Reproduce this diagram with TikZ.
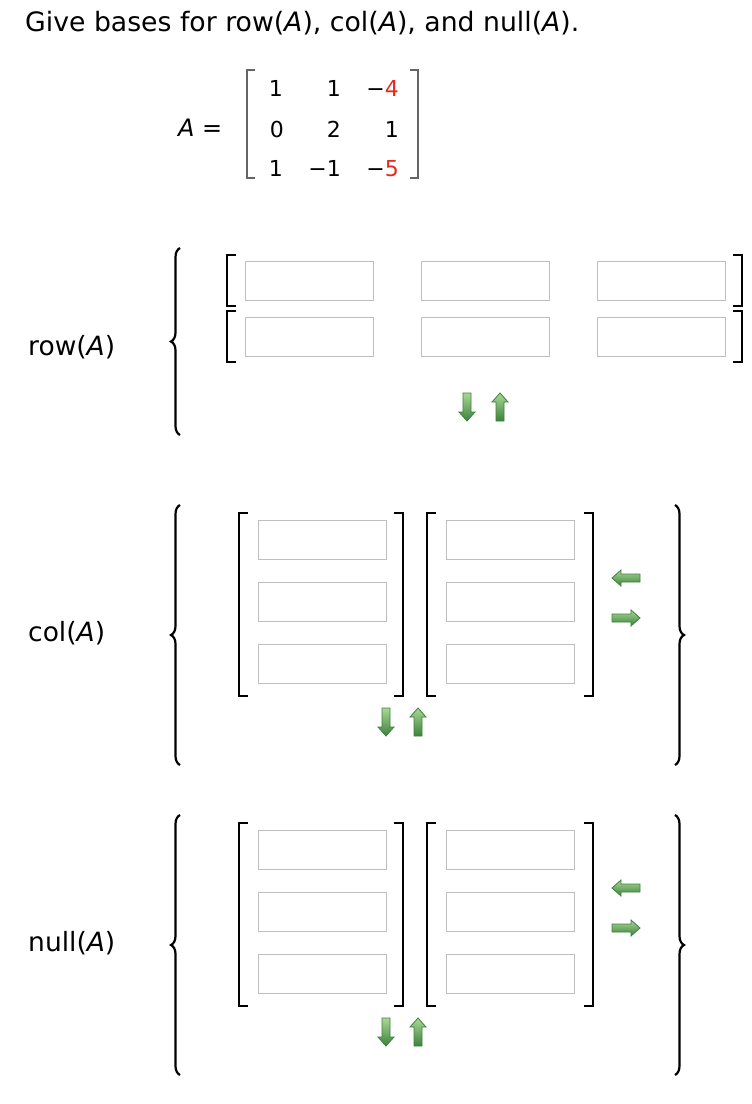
\documentclass[tikz,border=0pt]{standalone}
\usepackage{fontspec}
\setmainfont{DejaVu Sans}
\usetikzlibrary{decorations.pathreplacing}
\definecolor{fred}{RGB}{230,40,30}
\definecolor{gdark}{RGB}{60,130,60}
\definecolor{glight}{RGB}{170,215,150}
\newcommand{\fsz}[1]{\fontsize{#1pt}{#1pt}\selectfont}
\tikzset{
 box/.style={draw=black!25,line width=1.2pt,fill=white,minimum width=128pt,minimum height=39pt,inner sep=0pt,anchor=north west},
 brk/.style={line width=2pt},
 brc/.style={line width=2.2pt,decorate,decoration={brace,amplitude=9pt}},
 lbl/.style={anchor=base west,font=\fsz{26.5},inner sep=0pt},
 num/.style={font=\fsz{22},inner sep=0pt,anchor=base east},
 garr/.style={draw=gdark,line width=0.8pt,left color=glight,right color=gdark,shading angle=0}
}
\newcommand{\downarr}[2]{\path[garr] (#1-4,#2) -- (#1+4,#2) -- (#1+4,#2+19) -- (#1+8,#2+19) -- (#1,#2+28) -- (#1-8,#2+19) -- (#1-4,#2+19) -- cycle;}
\newcommand{\uparr}[2]{\path[garr] (#1-4,#2+28) -- (#1+4,#2+28) -- (#1+4,#2+9) -- (#1+8,#2+9) -- (#1,#2) -- (#1-8,#2+9) -- (#1-4,#2+9) -- cycle;}
\newcommand{\leftarr}[2]{\path[garr,top color=glight,bottom color=gdark] (#1+28,#2-4) -- (#1+28,#2+4) -- (#1+9,#2+4) -- (#1+9,#2+8) -- (#1,#2) -- (#1+9,#2-8) -- (#1+9,#2-4) -- cycle;}
\newcommand{\rightarr}[2]{\path[garr,top color=glight,bottom color=gdark] (#1,#2-4) -- (#1,#2+4) -- (#1+19,#2+4) -- (#1+19,#2+8) -- (#1+28,#2) -- (#1+19,#2-8) -- (#1+19,#2-4) -- cycle;}
\newcommand{\lbrk}[3]{\draw[brk] (#1+9,#2) -- (#1,#2) -- (#1,#3) -- (#1+9,#3);}
\newcommand{\rbrk}[3]{\draw[brk] (#1-9,#2) -- (#1,#2) -- (#1,#3) -- (#1-9,#3);}
\begin{document}
\begin{tikzpicture}[x=1pt,y=-1pt]
\path[use as bounding box,fill=white] (0,0) rectangle (752,1104);
\node[lbl,font=\fsz{26.7}] (title) at (25,31) {Give bases for row(\textit{A}), col(\textit{A}), and null(\textit{A}).};
\node[lbl,font=\fsz{24}] (Aeq) at (178,136) {\textit{A} =};
\draw[line width=2pt,black!60] (255,70) -- (247,70) -- (247,178) -- (255,178);
\draw[line width=2pt,black!60] (410,70) -- (418,70) -- (418,178) -- (410,178);
\node[num] (m11) at (283,96) {1};
\node[num] (m12) at (341,96) {1};
\node[num] (m13) at (399,96) {\textminus\textcolor{fred}{4}};
\node[num] (m21) at (284,137) {0};
\node[num] (m22) at (341,137) {2};
\node[num] (m23) at (399,137) {1};
\node[num] (m31) at (283,176) {1};
\node[num] (m32) at (341,176) {\textminus1};
\node[num] (m33) at (399,176) {\textminus\textcolor{fred}{5}};
\node[lbl] (rowl) at (28,355) {row(\textit{A})};
\draw[brc] (180,435) -- (180,248);
\foreach \r/\y in {1/261,2/317}{
  \lbrk{227}{\y-6}{\y+45}
  \rbrk{742}{\y-6}{\y+45}
  \foreach \c/\x in {1/245,2/421,3/597}{
    \node[box] (r\r\c) at (\x,\y) {};
  }
}
\downarr{467}{393}
\uparr{500}{393}
\foreach \nm/\lab/\off in {col/col/0,nul/null/310}{
  \node[lbl] (\nm l) at (28,641+\off) {\lab(\textit{A})};
  \draw[brc] (180,765+\off) -- (180,505+\off);
  \draw[brc] (675,505+\off) -- (675,765+\off);
  \lbrk{239}{513+\off}{696+\off}
  \rbrk{403}{513+\off}{696+\off}
  \lbrk{427}{513+\off}{696+\off}
  \rbrk{593}{513+\off}{696+\off}
  \foreach \k/\y in {1/520,2/582,3/644}{
    \node[box] (\nm a\k) at (258,\y+\off) {};
    \node[box] (\nm b\k) at (446,\y+\off) {};
  }
  \leftarr{612}{578+\off}
  \rightarr{612}{618+\off}
  \downarr{386}{708+\off}
  \uparr{418}{708+\off}
}
\end{tikzpicture}
\end{document}
